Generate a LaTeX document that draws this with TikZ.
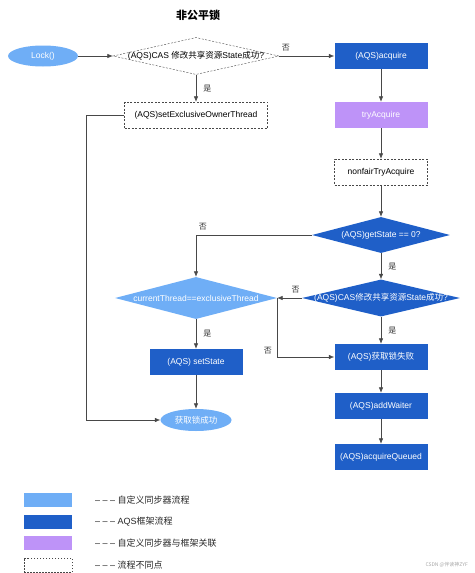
\documentclass[tikz,border=0pt]{standalone}
\usepackage{fontspec}
\setmainfont{Liberation Sans}
\newfontfamily\cjk{Noto Sans CJK SC}
\usetikzlibrary{shapes.geometric,arrows.meta}
\definecolor{synclight}{HTML}{6FAEF6}
\definecolor{aqsdark}{HTML}{1F5FC8}
\definecolor{linkpurple}{HTML}{BE93F8}
\definecolor{flowgray}{HTML}{484848}

\begin{document}
\begin{tikzpicture}[x=1pt, y=-1pt,
    every node/.style={font=\fontsize{8.5}{10}\selectfont, inner sep=0pt},
    aqsbox/.style={rectangle, fill=aqsdark, text=white, minimum width=93pt, minimum height=26pt},
    linkbox/.style={rectangle, fill=linkpurple, text=white, minimum width=93pt, minimum height=26pt},
    diffbox/.style={rectangle, draw=flowgray, dash pattern=on 2pt off 1.5pt, fill=white, minimum height=26pt},
    startend/.style={ellipse, fill=synclight, text=white, minimum width=71pt, minimum height=22pt},
    decision/.style={diamond, text=white},
    flow/.style={draw=flowgray, line width=0.6pt, -{Latex[length=5.5pt,width=4.5pt]}},
    answer/.style={font=\cjk\fontsize{8}{9.6}\selectfont, text=black!80},
    legend/.style={rectangle, minimum width=48pt, minimum height=14pt},
    legendtext/.style={anchor=west, font=\fontsize{9}{10.8}\selectfont, text=black!85}
]
    \useasboundingbox (0,0) rectangle (474,573);

    % Title
    \node[font=\cjk\bfseries\fontsize{11}{13}\selectfont] (title) at (198,15) {非公平锁};

    % Fast path: try CAS directly
    \node[startend, minimum width=70pt, minimum height=21pt] (lock) at (43,56) {Lock()};
    \node[diamond, draw=flowgray, dash pattern=on 2pt off 1.5pt, fill=white,
          minimum width=166pt, minimum height=37pt] (cas1) at (196,56)
        {\makebox[0pt]{(AQS)CAS {\cjk 修改共享资源}State{\cjk 成功}?}};
    \node[diffbox, minimum width=143pt] (setowner) at (196,115) {(AQS)setExclusiveOwnerThread};
    \coordinate (leftrail) at (86,0);

    % AQS acquire chain
    \node[aqsbox] (acquire) at (381,56) {(AQS)acquire};
    \node[linkbox] (tryacq) at (381,115) {tryAcquire};
    \node[diffbox, minimum width=93pt] (nonfair) at (381,172) {nonfairTryAcquire};
    \node[decision, fill=aqsdark, minimum width=138pt, minimum height=36pt] (getstate) at (381,235)
        {\makebox[0pt]{(AQS)getState == 0?}};
    \node[decision, fill=aqsdark, minimum width=158pt, minimum height=37pt] (cas2) at (381,298)
        {\makebox[0pt]{(AQS)CAS{\cjk 修改共享资源}State{\cjk 成功}?}};
    \node[aqsbox] (fail) at (381,357) {(AQS){\cjk 获取锁失败}};
    \node[aqsbox] (addwaiter) at (381,406) {(AQS)addWaiter};
    \node[aqsbox] (queued) at (381,457) {(AQS)acquireQueued};

    % Reentrant branch
    \node[decision, fill=synclight, minimum width=162pt, minimum height=42pt] (reenter) at (196,298)
        {\makebox[0pt]{currentThread==exclusiveThread}};
    \node[aqsbox] (setstate) at (196,362) {(AQS) setState};
    \node[startend] (success) at (196,420) {\cjk 获取锁成功};

    % Connectors
    \draw[flow] (lock) -- (cas1);
    \draw[flow] (cas1) -- node[answer, above, pos=0.12, yshift=5pt] {否} (acquire);
    \draw[flow] (cas1) -- node[answer, right, xshift=7pt] {是} (setowner);
    \draw[flow] (setowner.west) -- (setowner.west -| leftrail) |- (success.west);
    \draw[flow] (acquire) -- (tryacq);
    \draw[flow] (tryacq) -- (nonfair);
    \draw[flow] (nonfair) -- (getstate);
    \draw[flow] (getstate.west) -| node[answer, above, pos=0.47, yshift=5pt] {否} (reenter.north);
    \draw[flow] (getstate) -- node[answer, right, xshift=7pt] {是} (cas2);
    \draw[flow] (cas2) -- node[answer, above, pos=0.25, yshift=5pt] {否} (reenter);
    \draw[flow] (reenter.east) |- node[answer, left, pos=0.45, xshift=-5pt] {否} (fail.west);
    \draw[flow] (reenter) -- node[answer, right, xshift=7pt] {是} (setstate);
    \draw[flow] (setstate) -- (success);
    \draw[flow] (cas2) -- node[answer, right, xshift=7pt] {是} (fail);
    \draw[flow] (fail) -- (addwaiter);
    \draw[flow] (addwaiter) -- (queued);

    % Legend
    \node[legend, fill=synclight] (leg1) at (48,500) {};
    \node[legend, fill=aqsdark] (leg2) at (48,522) {};
    \node[legend, fill=linkpurple] (leg3) at (48,543) {};
    \node[legend, draw=flowgray, dash pattern=on 1.5pt off 1.5pt] (leg4) at (48,565) {};
    \node[legendtext] (legtext1) at (95,500) {– – –\ {\cjk 自定义同步器流程}};
    \node[legendtext] (legtext2) at (95,522) {– – –\ AQS{\cjk 框架流程}};
    \node[legendtext] (legtext3) at (95,543) {– – –\ {\cjk 自定义同步器与框架关联}};
    \node[legendtext] (legtext4) at (95,565) {– – –\ {\cjk 流程不同点}};

    \node[anchor=east, font=\cjk\fontsize{5}{6}\selectfont, text=black!35] (mark) at (468,565) {CSDN @伴读神ZYF};
\end{tikzpicture}
\end{document}
